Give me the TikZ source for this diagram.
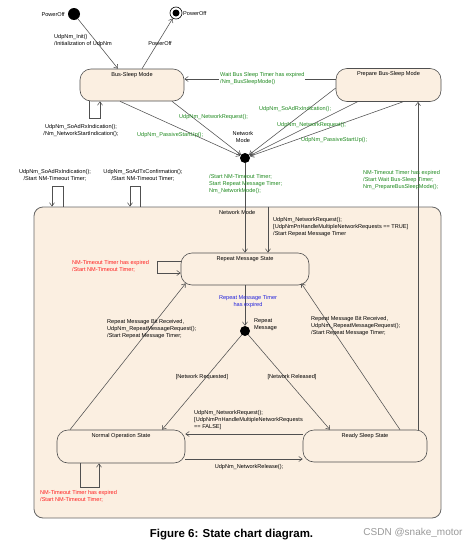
\documentclass[tikz,border=0pt]{standalone}
\usepackage{fontspec}
\setmainfont{Liberation Sans}
\usetikzlibrary{arrows.meta}
\definecolor{statefill}{HTML}{FBEFE1}
\definecolor{stroke}{HTML}{505050}
\definecolor{superstroke}{HTML}{666666}
\definecolor{grn}{HTML}{1F8A1F}
\definecolor{rd}{HTML}{FF1E1E}
\definecolor{bl}{HTML}{2222DD}
\definecolor{wm}{HTML}{9A9A9A}
\begin{document}
\begin{tikzpicture}[x=1pt,y=-1pt,
  stt/.style={draw=stroke, fill=statefill, rounded corners=11pt, line width=0.6pt, inner sep=0pt},
  ttl/.style={anchor=north, inner sep=0pt, yshift=-3.3pt, font=\fontsize{5.6}{7.2}\selectfont},
  jun/.style={circle, fill=black, minimum size=10pt, inner sep=0pt},
  tr/.style={draw=stroke, line width=0.55pt, -{Straight Barb[length=3.5pt,width=5pt]}},
  tl/.style={font=\fontsize{5.6}{7.2}\selectfont, inner sep=0pt, align=left},
  tc/.style={font=\fontsize{5.6}{7.2}\selectfont, inner sep=0pt, align=center},
  gtxt/.style={text=grn},
  rtxt/.style={text=rd},
  btxt/.style={text=bl}]
\useasboundingbox (0,0) rectangle (474,544);
\fill[white] (0,0) rectangle (474,544);

% superstate
\node[stt, rounded corners=9pt, draw=superstroke, line width=0.8pt,
      minimum width=407pt, minimum height=311pt] (ns) at (237.5,362.5) {};
\node[tl, anchor=west] (nsl) at (219,212) {Network Mode};

% states
\node[stt, minimum width=104pt, minimum height=32pt, label={[ttl]north:Bus-Sleep Mode}] (bs) at (132,85) {};
\node[stt, minimum width=105pt, minimum height=33pt, label={[ttl]north:Prepare Bus-Sleep Mode}] (pbs) at (388.5,85) {};
\node[stt, minimum width=128pt, minimum height=32pt, label={[ttl]north:Repeat Message State}] (rm) at (245,269) {};
\node[stt, minimum width=128pt, minimum height=33pt, label={[ttl]north:Normal Operation State}] (no) at (121,446.5) {};
\node[stt, minimum width=124pt, minimum height=32pt, label={[ttl]north:Ready Sleep State}] (rs) at (365,446) {};

% pseudo states
\node[jun, minimum size=12pt] (init) at (74,14) {};
\node[circle, draw=black, line width=0.6pt, minimum size=12pt, inner sep=0pt] (fin) at (176,13) {};
\node[jun, minimum size=7pt] (finin) at (fin) {};
\node[jun] (jn) at (245,158) {};
\node[jun] (jr) at (245,331) {};

% transitions
\draw[tr] (init) -- ([xshift=-14pt]bs.north);
\draw[tr] ([xshift=10pt]bs.north) -- (fin);
\draw[tr] ([yshift=6pt]pbs.west) -- ([yshift=6pt]bs.east);
\draw[tr] ([xshift=-43pt]bs.south) -- ++(0,17) -| ([xshift=-32pt]bs.south);
\draw[tr] ([xshift=-12pt]bs.south) -- (jn);
\draw[tr] ([xshift=40pt]bs.south) -- (jn);
\draw[tr] ([yshift=-3pt]pbs.west) -- (jn);
\draw[tr] ([xshift=-31pt]pbs.south) -- (jn);
\draw[tr] ([xshift=14.5pt]pbs.south) -- (jn);
\draw[tr] (jn) -- (rm.north);
\draw[tr] ([xshift=53pt]rs.north) -- ([xshift=29.5pt]pbs.south);
\draw[tr] ([xshift=-174.5pt]ns.north) -- ++(0,-20) -| ([xshift=-185.5pt]ns.north);
\draw[tr] ([xshift=-97.5pt]ns.north) -- ++(0,-20) -| ([xshift=-107.5pt]ns.north);
\draw[tr] ([xshift=30.5pt]ns.north) -- ([xshift=23pt]rm.north);
\draw[tr] ([xshift=0.5pt,yshift=8pt]rm.west) -- ++(-23.5,0) |- ([yshift=-4pt]rm.west);
\draw[tr] (rm.south) -- (jr);
\draw[tr] (jr) -- ([xshift=41pt]no.north);
\draw[tr] (jr) -- ([xshift=-35pt]rs.north);
\draw[tr] ([xshift=-51pt]no.north) -- ([xshift=5pt,yshift=2pt]rm.south west);
\draw[tr] ([xshift=35pt]rs.north) -- ([xshift=-8pt,yshift=2pt]rm.south east);
\draw[tr] ([yshift=12pt]rs.west) -- ([yshift=12.5pt]no.east);
\draw[tr] ([yshift=-12.5pt]no.east) -- ([yshift=-13pt]rs.west);
\draw[tr] ([xshift=-41pt]no.south) -- ++(0,24) -| ([xshift=-22pt]no.south);

% labels
\node[tl, anchor=east] (l1) at (65,14) {PowerOff};
\node[tl, anchor=west] (l2) at (183,13) {PowerOff};
\node[tl, anchor=north west] (l3) at (54,34) {UdpNm\_Init()\\/Initialization of UdpNm};
\node[tl] (l4) at (160,43) {PowerOff};
\node[tc, anchor=north] (l5) at (81,124) {UdpNm\_SoAdRxIndication();\\/Nm\_NetworkStartIndication();};
\node[tl, gtxt, anchor=north west, fill=white, inner xsep=1pt] (l6) at (219,72.5) {Wait Bus Sleep Timer has expired\\/Nm\_BusSleepMode()};
\node[tl, gtxt, anchor=west] (l7) at (179,117) {UdpNm\_NetworkRequest();};
\node[tl, gtxt, anchor=west] (l8) at (137,135) {UdpNm\_PassiveStartUp();};
\node[tl, gtxt, anchor=west] (l9) at (259,109) {UdpNm\_SoAdRxIndication();};
\node[tl, gtxt, anchor=west] (l10) at (277,125) {UdpNm\_NetworkRequest();};
\node[tl, gtxt, anchor=west] (l11) at (301,140) {UdpNm\_PassiveStartUp();};
\node[tc, anchor=north] (l12) at (243,131) {Network\\Mode};
\node[tc, anchor=north] (l13) at (55,169) {UdpNm\_SoAdRxIndication();\\/Start NM-Timeout Timer;};
\node[tc, anchor=north] (l14) at (143,169) {UdpNm\_SoAdTxConfirmation();\\/Start NM-Timeout Timer;};
\node[tl, gtxt, anchor=north west] (l15) at (209,174) {/Start NM-Timeout Timer;\\Start Repeat Message Timer;\\Nm\_NetworkMode();};
\node[tl, gtxt, anchor=north west] (l16) at (363,170) {NM-Timeout Timer has expired\\/Start Wait Bus-Sleep Timer;\\Nm\_PrepareBusSleepMode();};
\node[tl, anchor=north west] (l18) at (273,217) {UdpNm\_NetworkRequest();\\{}[UdpNmPnHandleMultipleNetworkRequests == TRUE]\\/Start Repeat Message Timer};
\node[tl, rtxt, anchor=north west] (l19) at (72,260) {NM-Timeout Timer has expired\\/Start NM-Timeout Timer;};
\node[tc, btxt, anchor=north] (l20) at (248,295) {Repeat Message Timer\\has expired};
\node[tl, anchor=north west] (l21) at (254,318) {Repeat\\Message};
\node[tl, anchor=north west] (l22) at (107,319) {Repeat Message Bit Received,\\UdpNm\_RepeatMessageRequest();\\/Start Repeat Message Timer;};
\node[tl, anchor=north west] (l23) at (311,316) {Repeat Message Bit Received,\\UdpNm\_RepeatMessageRequest();\\/Start Repeat Message Timer;};
\node[tl] (l24) at (202,377) {[Network Requested]};
\node[tl] (l25) at (292,377) {[Network Released]};
\node[tl, anchor=north west] (l26) at (194,410) {UdpNm\_NetworkRequest();\\{}[UdpNmPnHandleMultipleNetworkRequests\\== FALSE]};
\node[tl] (l27) at (249,467) {UdpNm\_NetworkRelease();};
\node[tl, rtxt, anchor=north west] (l28) at (40,490) {NM-Timeout Timer has expired\\/Start NM-Timeout Timer;};

% caption and watermark
\node[inner sep=0pt, font=\bfseries\fontsize{11.5}{14}\selectfont] (cap) at (231.5,535) {Figure 6: State chart diagram.};
\node[inner sep=0pt, text=wm, font=\fontsize{10}{12}\selectfont] (wmk) at (413,533) {CSDN @snake\_motor};
\end{tikzpicture}
\end{document}
